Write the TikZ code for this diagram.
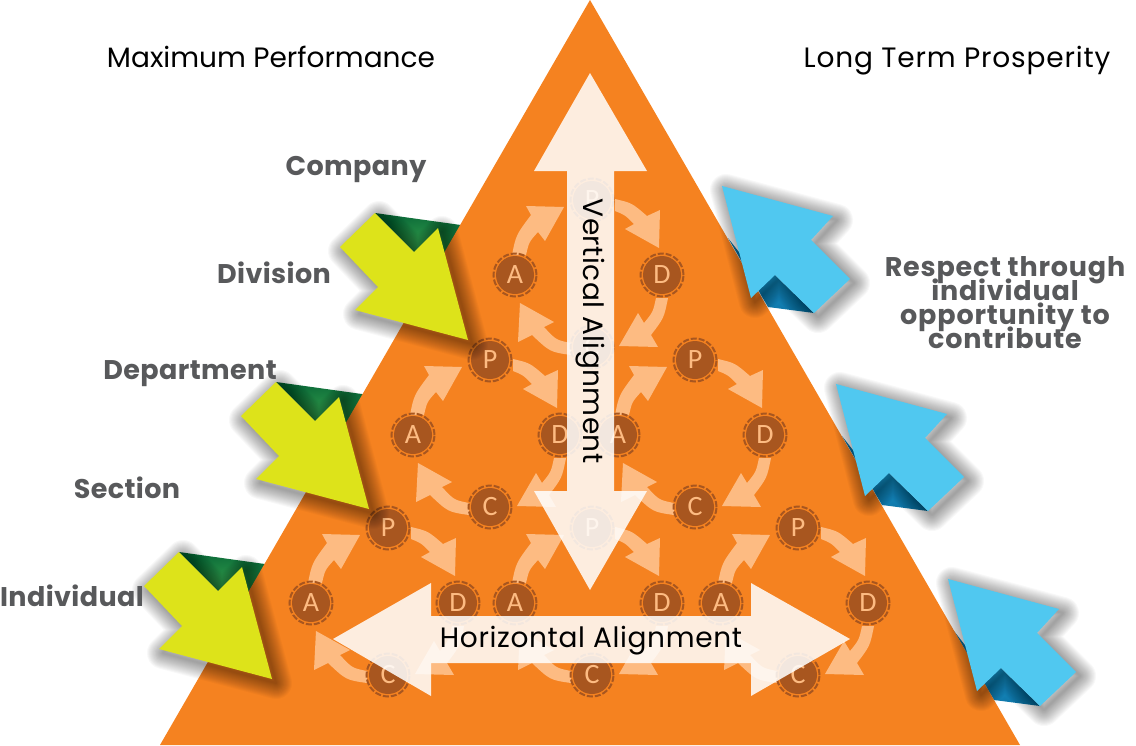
\documentclass[tikz,border=0pt]{standalone}
\usepackage{fontspec}
\setmainfont{Poppins}
\newfontfamily\pdcafont{Carlito}
\definecolor{triorange}{HTML}{F58220}
\definecolor{flowpeach}{HTML}{FDBB82}
\definecolor{pdcabrown}{HTML}{A8561F}
\definecolor{limeyellow}{HTML}{DDE31A}
\definecolor{skyblue}{HTML}{50C8F0}
\definecolor{labelgray}{HTML}{58595B}
\definecolor{foldgreen}{HTML}{319C4A}
\definecolor{folddarkgreen}{HTML}{0C6B39}
\definecolor{foldblue}{HTML}{1A96CE}
\definecolor{folddarkblue}{HTML}{0F76A8}
\tikzset{
	pdca/.style={circle,draw=pdcabrown,line width=2pt,dash pattern=on 6pt off 2pt,minimum size=43pt,inner sep=0pt,text=flowpeach,font=\pdcafont\fontsize{28}{28}\selectfont,
		path picture={\fill[pdcabrown] (path picture bounding box.center) circle (19pt);}},
	flow/.style={fill=flowpeach},
	bigarrow/.style={fill=white,opacity=.86},
	level/.style={anchor=base,text=labelgray,font=\bfseries\fontsize{27}{27}\selectfont\addfontfeature{LetterSpace=1.5}},
	respect/.style={level,font=\bfseries\fontsize{27}{27}\selectfont\addfontfeature{LetterSpace=3}},
	title/.style={anchor=base,text=black,font=\fontsize{28}{28}\selectfont},
	softshadow/.style={black,opacity=.027,line join=round},
}
\newcommand{\yellowarrow}[2]{
	\begin{scope}[shift={(#1,#2)}]
		\foreach \w in {2,4,...,32}
			\draw[softshadow,line width=\w pt,shift={(4,4)}] (0,0) -- (-30,-112) -- (-54,-88) -- (-93,-127) -- (-128,-93) -- (-90,-53) -- (-113,-30) -- cycle;
		\fill[limeyellow] (0,0) -- (-30,-112) -- (-54,-88) -- (-93,-127) -- (-128,-93) -- (-90,-53) -- (-113,-30) -- cycle;
	\end{scope}
}
\newcommand{\bluearrow}[2]{
	\begin{scope}[shift={(#1,#2)}]
		\foreach \w in {2,4,...,32}
			\draw[softshadow,line width=\w pt,shift={(4,4)}] (0,0) -- (111,30) -- (89,54) -- (128,93) -- (92,127) -- (53,89) -- (29,112) -- cycle;
		\fill[skyblue] (0,0) -- (111,30) -- (89,54) -- (128,93) -- (92,127) -- (53,89) -- (29,112) -- cycle;
	\end{scope}
}
\begin{document}
\begin{tikzpicture}[x=1pt,y=-1pt]
	\useasboundingbox (0,0) rectangle (1136,745);
	% folded parts behind the triangle
	\foreach \tx/\ty in {468/340,369/509,272/679}
		\shade[shift={(\tx,\ty)},inner color=foldgreen,outer color=folddarkgreen] (-93,-127) -- (0,-114) -- (-10,-60) -- (-54,-88) -- cycle;
	\foreach \tx/\ty in {722/186,836/384,948/579}
		\shade[shift={(\tx,\ty)},inner color=foldblue,outer color=folddarkblue] (6,52) -- (46,121) -- (92,127) -- (53,89) -- (20,70) -- cycle;
	\fill[triorange] (590,0) -- (1020,745) -- (160,745) -- cycle;
	% the six cycles
	\foreach \cx/\cy/\n in {592/200/a,490/360/b,695/360/c,388/528/d,592/528/e,798/528/f} {
		\begin{scope}[shift={(\cx,\cy)}]
			\fill[flow] (-80,55) .. controls (-76,35) .. (-61,15) -- (-66,6) -- (-28,7) -- (-47,41) -- (-54,32) .. controls (-63,42) .. (-66,55) -- cycle;
			\fill[flow] (23,-1) .. controls (40,3) .. (55,16) -- (68,10) -- (67,48) -- (33,29) -- (42,24) .. controls (33,15) .. (23,11) -- cycle;
			\fill[flow] (76,98) .. controls (72,118) .. (59,135) -- (66,147) -- (27,146) -- (46,113) -- (52,123) .. controls (61,112) .. (64,98) -- cycle;
			\fill[flow] (-21,143) .. controls (-36,140) .. (-48,127) -- (-38,122) -- (-72,103) -- (-74,142) -- (-60,135) .. controls (-42,152) .. (-21,155) -- cycle;
			\node [pdca] (P\n) at (0,0) {P};
			\node [pdca] (D\n) at (70,75) {D};
			\node [pdca] (C\n) at (0,147) {C};
			\node [pdca] (A\n) at (-77,75) {A};
		\end{scope}
	}
	\yellowarrow{468}{340}
	\yellowarrow{369}{509}
	\yellowarrow{272}{679}
	\bluearrow{722}{186}
	\bluearrow{836}{384}
	\bluearrow{948}{579}
	% alignment arrows
	\fill[bigarrow] (590,73) -- (647,171) -- (614,171) -- (614,491) -- (647,491) -- (590,590) -- (534,491) -- (567,491) -- (567,171) -- (534,171) -- cycle;
	\fill[bigarrow] (333,639) -- (431,583) -- (431,616) -- (751,616) -- (751,583) -- (850,639) -- (751,696) -- (751,663) -- (431,663) -- (431,696) -- cycle;
	\node [title,rotate=-90] (vertical) at (583,331) {\addfontfeature{LetterSpace=1.5}Vertical Alignment};
	\node [title] (horizontal) at (591,647) {\addfontfeature{LetterSpace=2.3}Horizontal Alignment};
	\node [title] (maxperf) at (271,67) {Maximum Performance};
	\node [title] (prosperity) at (957,67) {\addfontfeature{LetterSpace=3}Long Term Prosperity};
	\node [level] (company) at (356,175) {Company};
	\node [level] (division) at (274,283) {Division};
	\node [level] (department) at (190,379) {Department};
	\node [level] (section) at (127,498) {Section};
	\node [level] (individual) at (72,606) {Individual};
	\node [respect] (respect1) at (1005,276) {Respect through};
	\node [respect] (respect2) at (1005,300) {individual};
	\node [respect] (respect3) at (1005,324) {opportunity to};
	\node [respect] (respect4) at (1005,348) {contribute};
\end{tikzpicture}
\end{document}
